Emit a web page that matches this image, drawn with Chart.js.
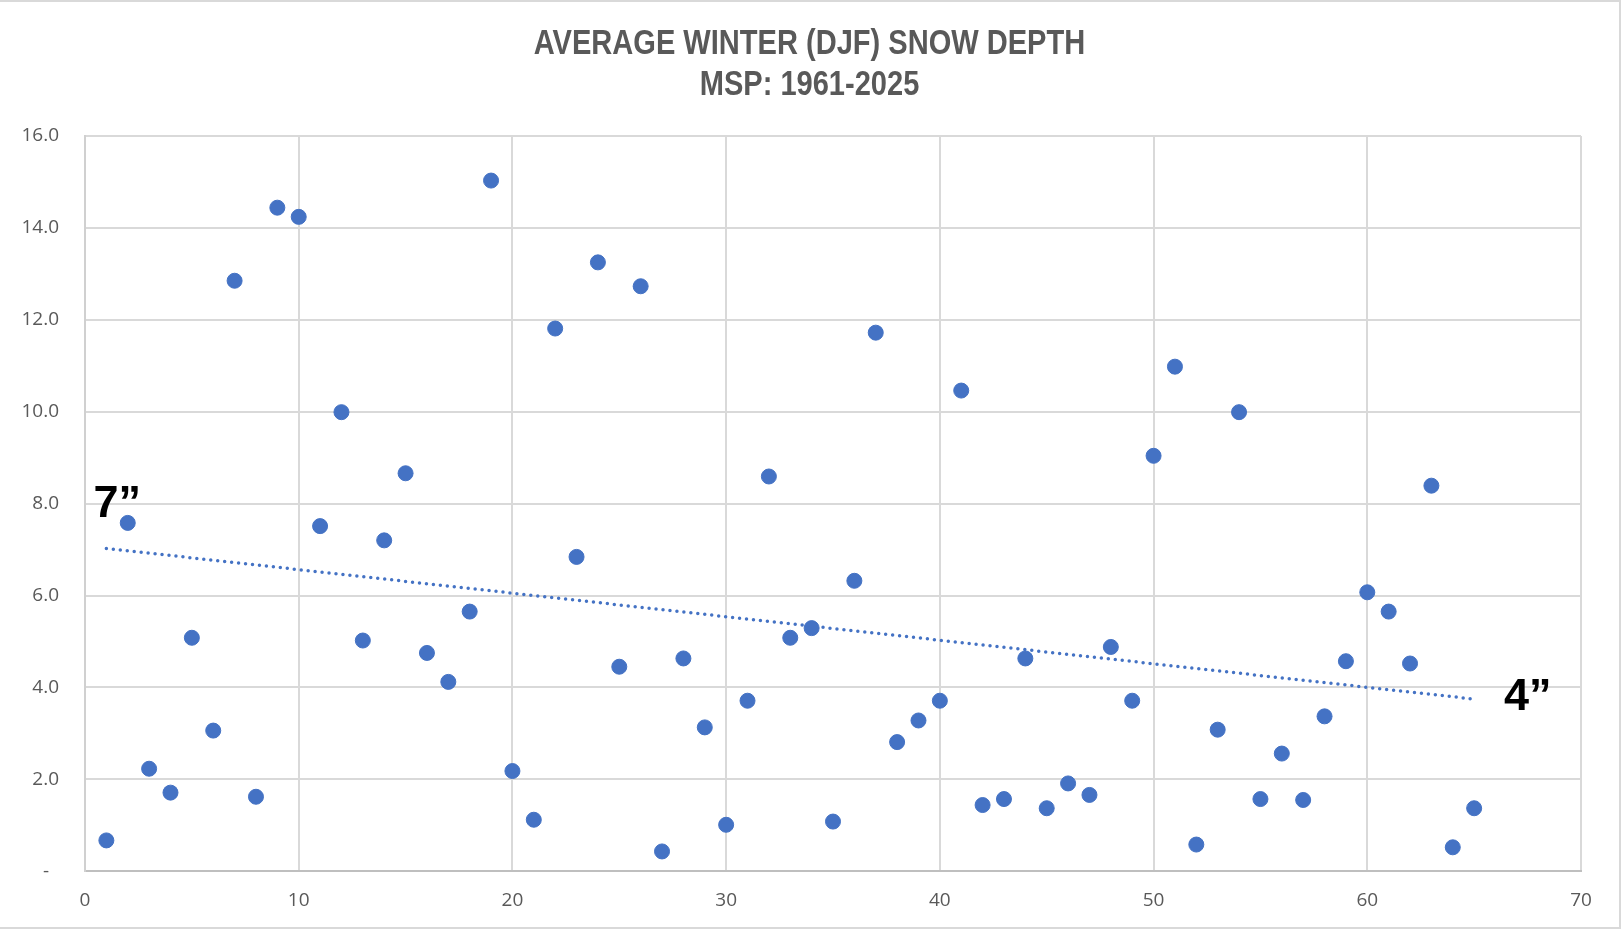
<!DOCTYPE html>
<html>
<head>
<meta charset="utf-8">
<script src="https://cdn.jsdelivr.net/npm/chart.js@4.4.1/dist/chart.umd.min.js"></script>
<style>
  html, body { margin: 0; padding: 0; background: #fff; }
  #wrap { width: 1621px; height: 930px; position: relative; }
</style>
</head>
<body>
<div id="wrap"><canvas id="snow"></canvas></div>
<script>
// winter number (1 = 1961-62 ... 65 = 2024-25)
const winters = [
  1, 2, 3, 4, 5, 6, 7, 8, 9, 10,
  11, 12, 13, 14, 15, 16, 17, 18, 19, 20,
  21, 22, 23, 24, 25, 26, 27, 28, 29, 30,
  31, 32, 33, 34, 35, 36, 37, 38, 39, 40,
  41, 42, 43, 44, 45, 46, 47, 48, 49, 50,
  51, 52, 53, 54, 55, 56, 57, 58, 59, 60,
  61, 62, 63, 64, 65
];

// average DJF snow depth (inches)
const snowDepth = [
  0.67, 7.58, 2.23, 1.71, 5.08, 3.06, 12.85, 1.62, 14.44, 14.24,
  7.51, 9.99, 5.02, 7.20, 8.66, 4.75, 4.12, 5.65, 15.03, 2.18,
  1.12, 11.81, 6.84, 13.25, 4.45, 12.73, 0.43, 4.63, 3.13, 1.01,
  3.71, 8.59, 5.08, 5.29, 1.08, 6.32, 11.72, 2.81, 3.28, 3.71,
  10.46, 1.44, 1.57, 4.63, 1.37, 1.91, 1.66, 4.88, 3.71, 9.04,
  10.98, 0.58, 3.08, 9.99, 1.57, 2.56, 1.55, 3.37, 4.57, 6.07,
  5.65, 4.52, 8.39, 0.52, 1.37
];

const titleLines = ['AVERAGE WINTER (DJF) SNOW DEPTH', 'MSP: 1961-2025'];
const callouts = [
  { text: '7\u201D', x: 0.4, y: 7.7 },
  { text: '4\u201D', x: 66.4, y: 3.5 }
];

// linear trendline (least squares), drawn from first to last winter
function trend(xs, ys) {
  const n = xs.length;
  const mx = xs.reduce((a, b) => a + b, 0) / n;
  const my = ys.reduce((a, b) => a + b, 0) / n;
  let sxy = 0, sxx = 0;
  for (let i = 0; i < n; i++) {
    sxy += (xs[i] - mx) * (ys[i] - my);
    sxx += (xs[i] - mx) * (xs[i] - mx);
  }
  const b = sxy / sxx, a = my - b * mx;
  const x0 = xs[0], x1 = xs[n - 1];
  return [{ x: x0, y: a + b * x0 }, { x: x1, y: a + b * x1 }];
}

const blue = '#4472C4';
const grey = '#595959';

// condensed bold title, like the narrow Excel heading
const titlePlugin = {
  id: 'narrowTitle',
  afterDraw(chart) {
    const { ctx, width } = chart;
    ctx.save();
    ctx.fillStyle = grey;
    ctx.font = 'bold 35px "Liberation Sans", Arial, sans-serif';
    ctx.textAlign = 'center';
    ctx.textBaseline = 'alphabetic';
    const squeeze = 0.83;
    ctx.translate(width / 2 - 1, 0);
    ctx.scale(squeeze, 1);
    ctx.fillText(titleLines[0], 0, 54);
    ctx.fillText(titleLines[1], 0, 95);
    ctx.restore();
  }
};

const calloutPlugin = {
  id: 'callouts',
  afterDatasetsDraw(chart) {
    const { ctx, scales } = chart;
    ctx.save();
    ctx.fillStyle = '#000';
    ctx.font = 'bold 45px "Liberation Sans", Arial, sans-serif';
    ctx.textAlign = 'left';
    ctx.textBaseline = 'alphabetic';
    callouts.forEach(c => {
      ctx.fillText(c.text, scales.x.getPixelForValue(c.x), scales.y.getPixelForValue(c.y));
    });
    ctx.restore();
  }
};

const framePlugin = {
  id: 'frame',
  beforeDraw(chart) {
    const { ctx, width, height } = chart;
    ctx.save();
    ctx.fillStyle = '#fff';
    ctx.fillRect(0, 0, width, height);
    ctx.strokeStyle = '#d9d9d9';
    ctx.lineWidth = 2;
    ctx.beginPath();
    ctx.moveTo(-2, 1);
    ctx.lineTo(width - 1, 1);
    ctx.lineTo(width - 1, height - 2);
    ctx.lineTo(-2, height - 2);
    ctx.stroke();
    ctx.restore();
  }
};

const tickFont = { family: '"Open Sans", "Liberation Sans", sans-serif', size: 19 };

new Chart(document.getElementById('snow'), {
  type: 'scatter',
  data: {
    datasets: [
      {
        label: 'Snow depth',
        data: winters.map((w, i) => ({ x: w, y: snowDepth[i] })),
        backgroundColor: blue,
        borderColor: blue,
        pointRadius: 7.5,
        pointHoverRadius: 7.5,
        order: 1
      },
      {
        label: 'Linear trend',
        data: trend(winters, snowDepth),
        showLine: true,
        borderColor: blue,
        borderWidth: 3.5,
        borderDash: [0, 7],
        borderCapStyle: 'round',
        pointRadius: 0,
        fill: false,
        order: 2
      }
    ]
  },
  options: {
    responsive: true,
    maintainAspectRatio: false,
    animation: false,
    layout: { padding: { top: 136, right: 40, bottom: 0, left: 0 } },
    plugins: {
      legend: { display: false },
      tooltip: { enabled: false },
      title: { display: false }
    },
    scales: {
      x: {
        type: 'linear',
        min: 0,
        max: 70,
        ticks: { stepSize: 10, color: grey, font: tickFont, padding: 18 },
        grid: { color: '#d9d9d9', lineWidth: 2, drawTicks: false },
        border: { color: '#bfbfbf', width: 2 }
      },
      y: {
        min: 0,
        max: 16,
        ticks: {
          stepSize: 2,
          color: grey,
          font: tickFont,
          padding: 26,
          callback: v => v === 0 ? '-  ' : v.toFixed(1)
        },
        grid: { color: '#d9d9d9', lineWidth: 2, drawTicks: false },
        border: { color: '#d0d0d0', width: 2 },
        afterFit: s => { s.width = 85; }
      }
    }
  },
  plugins: [framePlugin, titlePlugin, calloutPlugin]
});
</script>
</body>
</html>
